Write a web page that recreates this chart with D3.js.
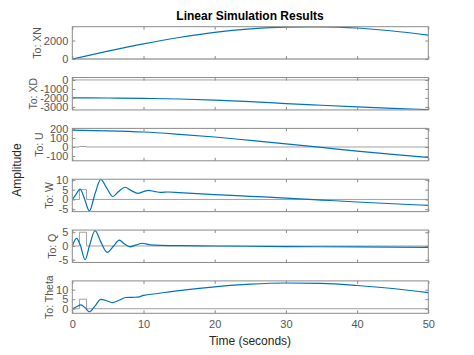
<!DOCTYPE html>
<html><head><meta charset="utf-8">
<script src="https://cdn.jsdelivr.net/npm/d3@7"></script>
<style>body{margin:0;background:#fff}svg{display:block}</style>
</head><body><svg id="c" width="474" height="355"></svg>
<script>
// ---- data ----
const title = "Linear Simulation Results";
const xLabel = "Time (seconds)";
const yLabel = "Amplitude";
const xTicks = [0, 10, 20, 30, 40, 50];
const xLim = [0, 50];
const outputs = ["XN", "XD", "U", "W", "Q", "Theta"];

// input signal (gray)
const inputT = [0, 1, 1, 2, 2, 50];
const inputV = [0, 0, 5, 5, 0, 0];

const tXN = [0, 5, 10, 15, 20, 25, 30, 35, 40, 45, 50];
const vXN = [0, 850, 1630, 2320, 2880, 3250, 3440, 3460, 3340, 3020, 2580];
const yLimXN = [0, 3480];
const yTicksXN = [0, 2000];

const tXD = [0, 5, 10, 15, 20, 25, 30, 35, 40, 45, 50];
const vXD = [-2000, -2010, -2050, -2120, -2240, -2420, -2630, -2820, -3000, -3160, -3300];
const yLimXD = [-3340, 270];
const yTicksXD = [0, -1000, -2000, -3000];

const tU = [0, 5, 10, 15, 20, 25, 30, 35, 40, 45, 50];
const vU = [185, 178, 165, 140, 110, 73, 35, -5, -45, -82, -115];
const yLimU = [-152, 205];
const yTicksU = [200, 100, 0, -100];

const tW = [0, 0.5, 1.1, 1.7, 2.4, 3.2, 4.0, 4.8, 5.7, 6.5, 7.4, 8.3, 9.2, 10.0, 10.7, 11.5, 12.4, 13.5, 15, 20, 25, 30, 35, 40, 45, 50];
const vW = [0, 2.5, 5.3, 0.5, -5.8, 3, 10.2, 6, 1.5, 4, 6.2, 4.5, 3.1, 4.0, 4.6, 4.1, 3.6, 3.8, 3.5, 2.5, 1.6, 0.7, -0.3, -1.3, -2.2, -3.0];
const yLimW = [-6.2, 10.3];
const yTicksW = [10, 5, 0, -5];

const tQ = [0, 0.6, 1.1, 1.8, 2.4, 3.2, 4.0, 4.9, 5.8, 6.6, 7.3, 8.1, 9.0, 9.8, 11, 12.5, 15, 20, 30, 40, 50];
const vQ = [0, 2.8, 0.5, -5, 0, 5.6, 1.5, -2.3, 0, 2.1, 0.8, -0.3, 0.4, 1.0, 0.4, 0.2, 0.1, 0, -0.2, -0.35, -0.5];
const yLimQ = [-6, 5.8];
const yTicksQ = [5, 0, -5];

const tTheta = [0, 0.6, 1.2, 1.8, 2.4, 3.2, 4.0, 4.8, 5.6, 6.5, 7.5, 8.5, 9.2, 10, 12, 15, 20, 25, 30, 35, 40, 45, 50];
const vTheta = [0, 1, 2, 0.5, -1.6, 1.5, 4.9, 4.2, 3.2, 4.3, 5.9, 6.0, 6.1, 7.0, 8.0, 9.5, 11.5, 12.9, 13.5, 13.3, 12.2, 10.6, 8.4];
const yLimTheta = [-2.4, 14.6];
const yTicksTheta = [10, 5, 0];

const series = {
  XN: {t: tXN, v: vXN, lim: yLimXN, ticks: yTicksXN},
  XD: {t: tXD, v: vXD, lim: yLimXD, ticks: yTicksXD},
  U: {t: tU, v: vU, lim: yLimU, ticks: yTicksU},
  W: {t: tW, v: vW, lim: yLimW, ticks: yTicksW},
  Q: {t: tQ, v: vQ, lim: yLimQ, ticks: yTicksQ},
  Theta: {t: tTheta, v: vTheta, lim: yLimTheta, ticks: yTicksTheta}
};

// ---- layout ----
const svg = d3.select("#c");
const font = "'Liberation Sans', Arial, Helvetica, sans-serif";
const left = 72.3, right = 428.3, top0 = 26.7, bottomLast = 313.3, ph = 32.4;
const step = (bottomLast - top0 - ph) / (outputs.length - 1);
const frameColor = "#8a8a8a", tickText = "#555", blue = "#0072BD", gray = "#a0a0a0";

const x = d3.scaleLinear().domain(xLim).range([left, right]);

svg.append("text").attr("x", 250).attr("y", 20).attr("text-anchor", "middle")
  .attr("font-family", font).attr("font-size", 12).attr("font-weight", "bold")
  .attr("fill", "#000").text(title);

outputs.forEach((name, i) => {
  const s = series[name];
  const top = top0 + i * step;
  const bot = top + ph;
  const y = d3.scaleLinear().domain(s.lim).range([bot, top]);
  const g = svg.append("g");
  const clipId = "clip" + i;
  svg.append("clipPath").attr("id", clipId).append("rect")
    .attr("x", left).attr("y", top).attr("width", right - left).attr("height", ph);

  const plot = g.append("g").attr("clip-path", `url(#${clipId})`);
  const line = d3.line().x(d => x(d[0])).y(d => y(d[1]));
  plot.append("path").datum(inputT.map((t, k) => [t, inputV[k]]))
    .attr("d", line).attr("fill", "none").attr("stroke", gray).attr("stroke-width", 1);
  plot.append("path").datum(s.t.map((t, k) => [t, s.v[k]]))
    .attr("d", line.curve(d3.curveMonotoneX)).attr("fill", "none")
    .attr("stroke", blue).attr("stroke-width", 1.2);

  // axes with inward ticks
  const fmt = d => String(d);
  const ax = [
    d3.axisBottom(x).tickValues(xTicks).tickSizeInner(-3).tickSizeOuter(0).tickFormat(i === outputs.length - 1 ? fmt : ""),
  ];
  const gb = g.append("g").attr("transform", `translate(0,${bot})`).call(ax[0]);
  const gt = g.append("g").attr("transform", `translate(0,${top})`)
    .call(d3.axisTop(x).tickValues(xTicks).tickSizeInner(-3).tickSizeOuter(0).tickFormat(""));
  const gl = g.append("g").attr("transform", `translate(${left},0)`)
    .call(d3.axisLeft(y).tickValues(s.ticks).tickSizeInner(-3).tickSizeOuter(0).tickPadding(4).tickFormat(fmt));
  const gr = g.append("g").attr("transform", `translate(${right},0)`)
    .call(d3.axisRight(y).tickValues(s.ticks).tickSizeInner(-3).tickSizeOuter(0).tickFormat(""));
  [gb, gt, gl, gr].forEach(a => {
    a.select(".domain").remove();
    a.selectAll("line").attr("stroke", frameColor);
    a.selectAll("text").attr("font-family", font).attr("font-size", 11).attr("fill", tickText);
  });
  gb.selectAll("text").attr("dy", "1em").attr("y", 4);
  g.append("rect").attr("x", left).attr("y", top).attr("width", right - left).attr("height", ph)
    .attr("fill", "none").attr("stroke", frameColor).attr("stroke-width", 1);

  // y label
  const bb = gl.node().getBBox();
  g.append("text").attr("transform", `translate(${bb.x + left - 3},${top + ph / 2}) rotate(-90)`)
    .attr("text-anchor", "middle").attr("font-family", font).attr("font-size", 10.5)
    .attr("fill", tickText).text("To: " + name);
});

svg.append("text").attr("x", 250).attr("y", 345).attr("text-anchor", "middle")
  .attr("font-family", font).attr("font-size", 12).attr("fill", "#262626").text(xLabel);
svg.append("text").attr("transform", "translate(20.5,170) rotate(-90)").attr("text-anchor", "middle")
  .attr("font-family", font).attr("font-size", 12).attr("fill", "#262626").text(yLabel);
</script></body></html>
